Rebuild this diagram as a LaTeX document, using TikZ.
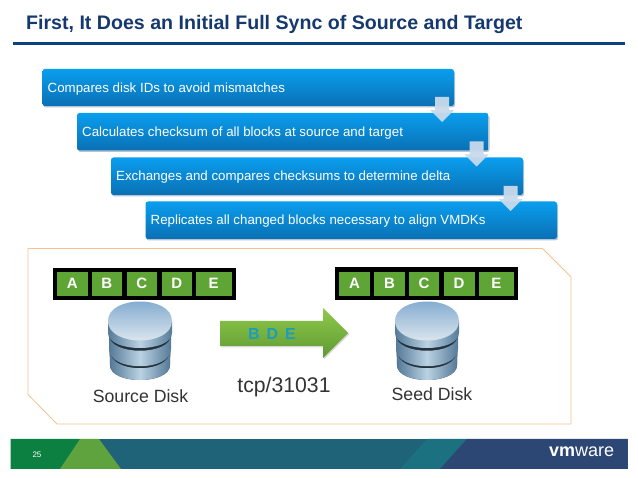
\documentclass[tikz,border=0pt]{standalone}
\usepackage{fontspec}
\setmainfont{Liberation Sans}
\definecolor{navy}{HTML}{15396F}
\definecolor{rulec}{HTML}{0B4382}
\definecolor{stepa}{HTML}{0A9EEE}
\definecolor{stepb}{HTML}{0A70B4}
\definecolor{stepsh}{HTML}{B4C4D4}
\definecolor{drop}{HTML}{C8DAEB}
\definecolor{framec}{HTML}{F6C28E}
\definecolor{cellc}{HTML}{5FA535}
\definecolor{pushtop}{HTML}{8FC84A}
\definecolor{pushbot}{HTML}{5F9A34}
\definecolor{pushtxt}{HTML}{1E9CC0}
\definecolor{footg}{HTML}{0C8040}
\definecolor{footl}{HTML}{5FA33F}
\definecolor{foott}{HTML}{1E6378}
\definecolor{foott2}{HTML}{1C7180}
\definecolor{footb}{HTML}{2C4773}
\definecolor{diskd}{HTML}{24323E}
\definecolor{diske}{HTML}{557A98}
\definecolor{diskm}{HTML}{BAD2E2}
\definecolor{disktop}{HTML}{78A4CC}
\definecolor{diskrim}{HTML}{E8EEF2}
\tikzset{
  steptxt/.style={anchor=west,inner sep=0pt,text=white,font=\fontsize{13.3}{15}\selectfont},
  stepbox/.style={rounded corners=2.5pt,top color=stepa,bottom color=stepb,draw=none},
  dropar/.style={fill=drop,draw=none,opacity=.95},
  lettr/.style={inner sep=0pt,text=white,font=\fontsize{15}{17}\selectfont\bfseries},
  lbl/.style={inner sep=0pt,text=black!80,font=\fontsize{17.7}{20}\selectfont},
  plate/.style={left color=diske,right color=diske,middle color=diskm,draw=none},
  pics/disk/.style={code={
    % dark body, then the three plates from the bottom up
    \fill[diskd] (-31,10) -- (-30,44) .. controls (-30,64) and (30,64) .. (30,44) -- (31,10) -- cycle;
    \path[plate] (-30,30) -- (-30,44) .. controls (-30,64) and (30,64) .. (30,44) -- (30,30) .. controls (30,53) and (-30,53) .. cycle;
    \path[plate] (-31,14) -- (-31,28) .. controls (-31,51) and (31,51) .. (31,28) -- (31,14) .. controls (31,35) and (-31,35) .. cycle;
    \path[plate] (-32,0) -- (-32,12) .. controls (-32,32) and (32,32) .. (32,12) -- (32,0) -- cycle;
    \path[top color=disktop,bottom color=diskrim] (-32,0) .. controls (-32,-26) and (32,-26) .. (32,0) .. controls (32,26) and (-32,26) .. cycle;
  }}
}
\begin{document}
\begin{tikzpicture}[x=1pt,y=-1pt]
\useasboundingbox (0,0) rectangle (638,478);
\fill[white] (0,0) rectangle (638,478);

% title
\node[anchor=west,inner sep=0pt,text=navy,font=\fontsize{19.6}{23}\selectfont\bfseries] (title) at (26,24) {First, It Does an Initial Full Sync of Source and Target};
\fill[rulec] (13,42.5) rectangle (625,45.5);

% stacked steps
\foreach \xa/\xb/\ya/\yb/\n/\t in {
  42.5/454/69/106/a/{Compares disk IDs to avoid mismatches},
  77/488.5/113/150.5/b/{Calculates checksum of all blocks at source and target},
  111/523/157.5/195/c/{Exchanges and compares checksums to determine delta},
  145.5/557/201.5/239/d/{Replicates all changed blocks necessary to align VMDKs}} {
  \fill[stepsh,rounded corners=2.5pt] (\xa+1,\ya+2) rectangle (\xb+1,\yb+1.5);
  \path[stepbox] (\xa,\ya) rectangle (\xb,\yb);
  \node[steptxt] (step\n) at (\xa+5,{(\ya+\yb)/2+1.2}) {\t};
}
\foreach \x/\y in {442/97,476.5/141.5,510.5/186} {
  \path[dropar] (\x-7,\y) -- (\x+7,\y) -- (\x+7,\y+13) -- (\x+12,\y+13) -- (\x,\y+25) -- (\x-12,\y+13) -- (\x-7,\y+13) -- cycle;
}

% frame
\draw[framec,line width=.8pt] (28,248.5) -- (542.5,248.5) -- (571,277) -- (571,424) -- (57,424) -- (28,394.5) -- cycle;

% block strips
\fill[black] (52.5,268) rectangle (235.5,300);
\fill[black] (334.5,267) rectangle (518,300);
\foreach \xa/\xb/\l in {57/87.5/A,91.5/122/B,126.5/157/C,161.5/192/D,196/231.5/E} {
  \fill[cellc] (\xa,272) rectangle (\xb,296);
  \node[lettr] (s\l) at ({(\xa+\xb)/2},283.5) {\l};
}
\foreach \xa/\xb/\l in {339/370/A,374/405/B,409/439/C,443.5/474.5/D,478.5/514/E} {
  \fill[cellc] (\xa,272) rectangle (\xb,296);
  \node[lettr] (t\l) at ({(\xa+\xb)/2},283) {\l};
}

% disks
\pic at (140,321) {disk};
\pic at (427,321) {disk};

% transfer arrow
\fill[black!15] (221,322.5) -- (324,322.5) -- (324,309.5) -- (349.5,334) -- (324,359.5) -- (324,347.5) -- (221,347.5) -- cycle;
\path[top color=pushtop,bottom color=pushbot] (220,321) -- (323,321) -- (323,308) -- (348,333) -- (323,358) -- (323,346) -- (220,346) -- cycle;
\node[inner sep=0pt,text=pushtxt,font=\fontsize{16}{18}\selectfont\bfseries] (delta) at (272,334) {B\hspace{7pt}D\hspace{7pt}E};

% labels
\node[lbl] (src) at (140.5,396.5) {Source Disk};
\node[lbl] (seed) at (432,394.5) {Seed Disk};
\node[inner sep=0pt,text=black!80,font=\fontsize{21.2}{24}\selectfont] (port) at (284,387) {tcp/31031};

% footer band
\fill[foott] (10.5,439) rectangle (627.5,469);
\fill[foott2] (400,469) -- (440,469) -- (467,439) -- (427,439) -- cycle;
\fill[footb] (467,439) -- (627.5,439) -- (627.5,469) -- (440,469) -- cycle;
\fill[footg] (10.5,439) -- (80,439) -- (60,469) -- (10.5,469) -- cycle;
\fill[footl] (80,439) -- (99,439) -- (121,469) -- (60,469) -- cycle;
\node[inner sep=0pt,text=white,font=\fontsize{8}{9}\selectfont] (page) at (37,455) {25};
\node[anchor=west,inner sep=0pt,text=white,font=\fontsize{18}{20}\selectfont] (logo) at (549,452) {\textbf{vm}ware};
\end{tikzpicture}
\end{document}
